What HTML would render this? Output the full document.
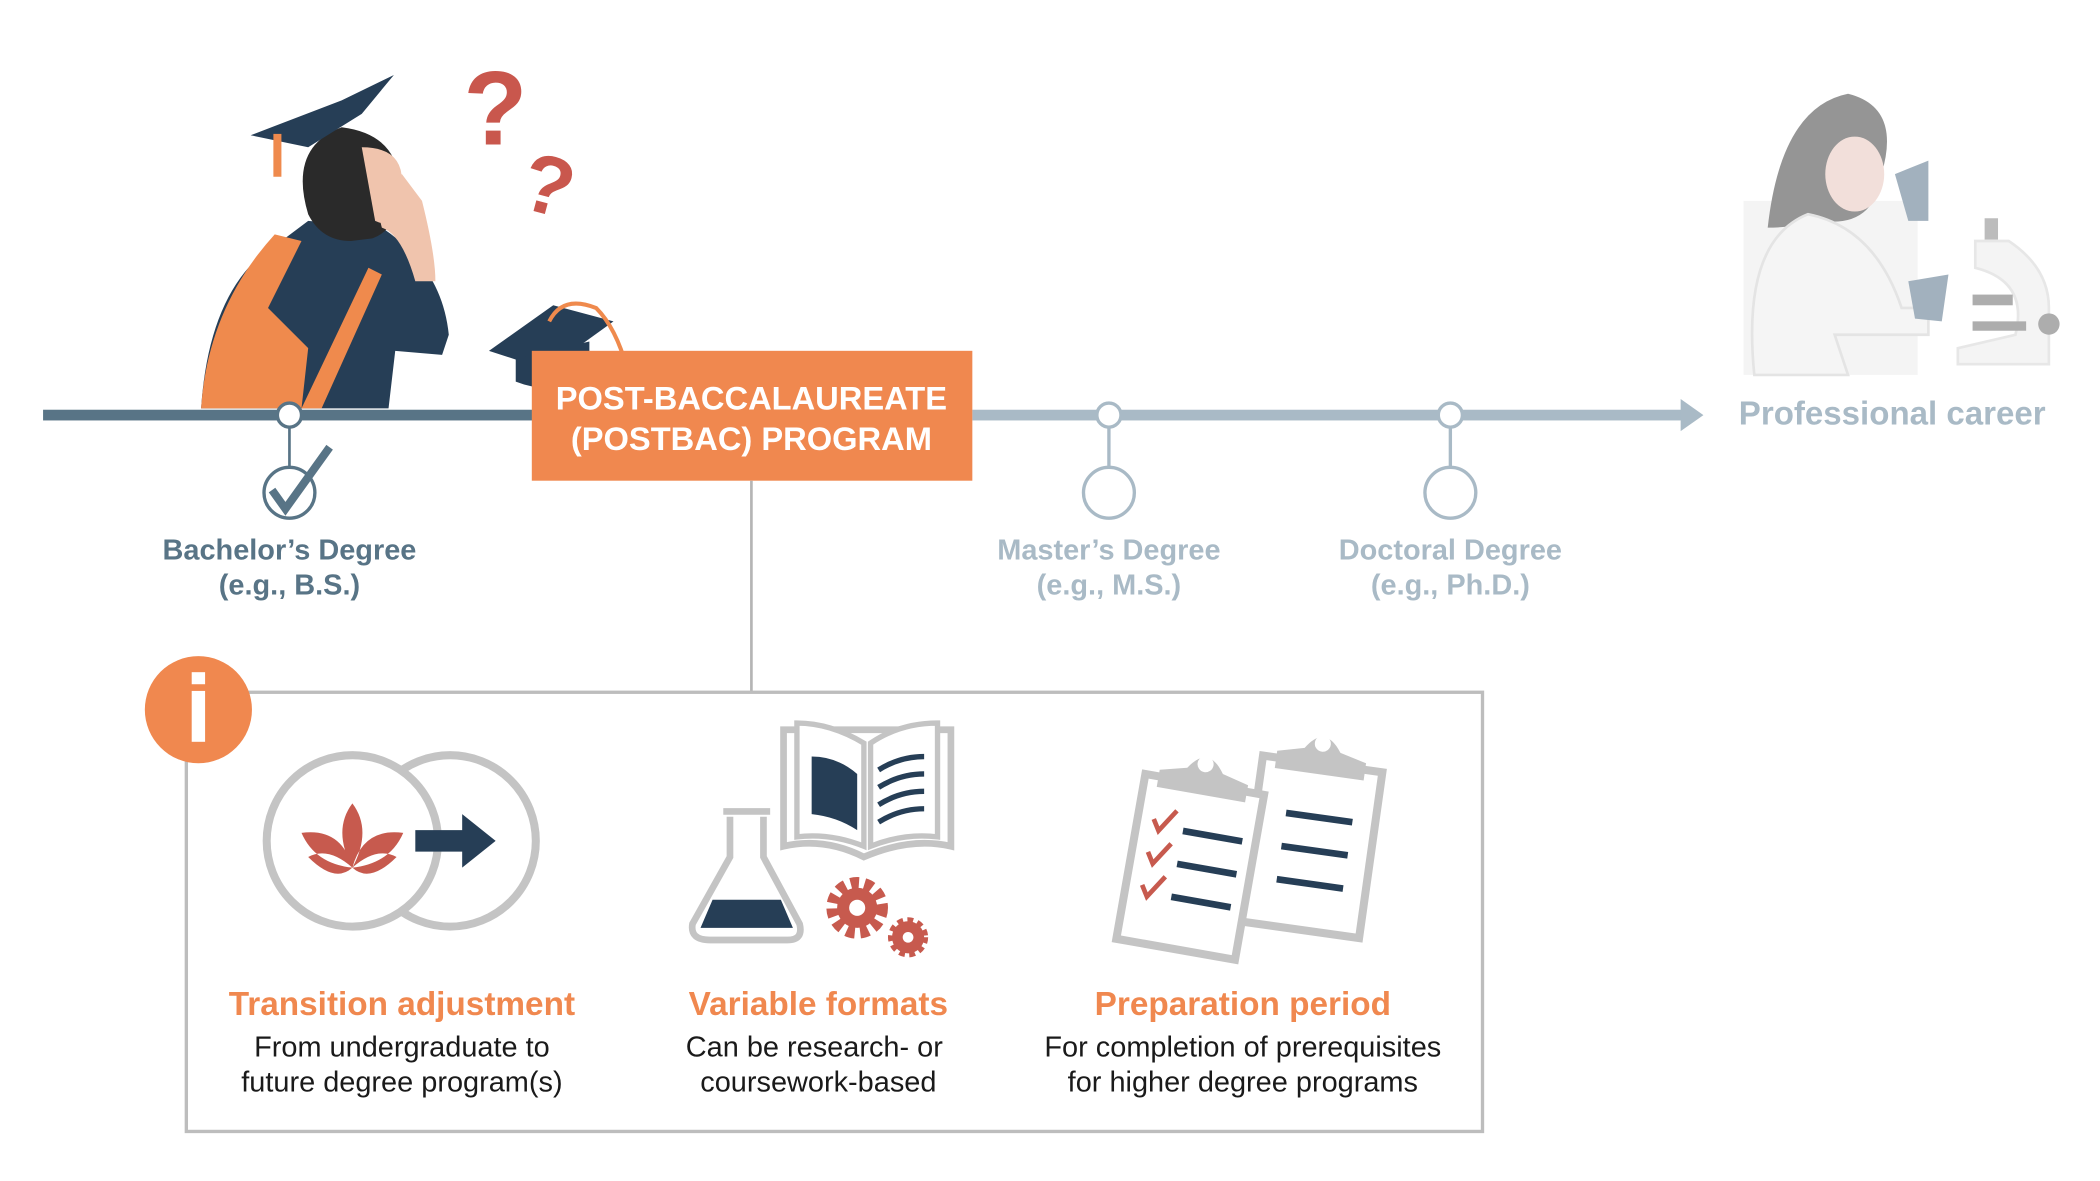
<!DOCTYPE html>
<html><head><meta charset="utf-8"><style>
html,body{margin:0;padding:0;background:#fff;width:2100px;height:1181px;overflow:hidden}
text{font-family:"Liberation Sans",sans-serif}
</style></head><body>
<svg width="2100" height="1181" viewBox="0 0 1568 882" xmlns="http://www.w3.org/2000/svg">
<rect width="1568" height="882" fill="#fff"/>
<g opacity="0.9">
<rect x="1302" y="150" width="130" height="130" fill="#f3f3f3"/>
<path d="M1320 170 Q1330 80 1380 70 Q1420 80 1405 130 Q1400 170 1360 165 Q1340 170 1320 170Z" fill="#8a8a8a"/>
<ellipse cx="1385" cy="130" rx="22" ry="28" fill="#f1dcd6"/>
<path d="M1310 280 Q1300 180 1350 160 Q1400 170 1420 230 L1440 230 L1440 250 L1370 250 L1380 280Z" fill="#f5f5f5" stroke="#e2e2e2" stroke-width="2"/>
<path d="M1415 130 L1440 120 L1440 165 L1425 165Z" fill="#98a9b7"/>
<path d="M1425 210 L1455 205 L1450 240 L1430 238Z" fill="#98a9b7"/>
<rect x="1482" y="163" width="10" height="16" fill="#b5b5b5"/>
<path d="M1475 180 L1500 180 Q1530 200 1530 230 L1530 272 L1462 272 L1462 260 L1505 250 Q1515 210 1475 200Z" fill="#f3f3f3" stroke="#e5e5e5" stroke-width="2"/>
<rect x="1473" y="220" width="30" height="8" fill="#a5a5a5"/>
<rect x="1473" y="240" width="40" height="7" fill="#a5a5a5"/>
<circle cx="1530" cy="242" r="8" fill="#a5a5a5"/>
</g>
<path d="M150 305 Q155 230 190 195 L230 165 L285 170 Q330 200 335 250 L330 265 L295 262 L290 305Z" fill="#263e56"/>
<path d="M150 305 Q155 230 205 175 L225 180 L200 230 L230 260 L225 305Z" fill="#ef8a4d"/>
<path d="M225 305 L275 200 L285 205 L240 305Z" fill="#ef8a4d"/>
<path d="M230 160 Q215 110 255 95 Q295 100 298 135 Q300 170 278 178 L262 180 Q240 180 230 160Z" fill="#2a2a2a"/>
<path d="M270 110 Q300 110 300 135 L298 160 Q290 170 280 165 Z" fill="#f0c4ad"/>
<path d="M280 150 L300 130 L315 150 Q325 190 325 210 L310 210 Q300 175 285 170Z" fill="#f0c4ad"/>
<polygon points="187,101 255,75 294,56 270,85 230,110" fill="#263e56"/>
<rect x="204" y="100" width="6" height="32" fill="#ef8a4d"/>
<text x="346" y="108" font-size="78" font-weight="bold" fill="#c9574d" font-family="Liberation Serif">?</text>
<text x="390" y="160" font-size="62" font-weight="bold" fill="#c9574d" font-family="Liberation Serif" transform="rotate(15 410 140)">?</text>
<polygon points="365,262 413,228 458,240 408,276" fill="#263e56"/>
<path d="M385 268 L385 285 Q410 295 440 285 L440 255Z" fill="#263e56"/>
<path d="M410 240 Q420 220 445 230 Q460 245 468 275" fill="none" stroke="#ef8a4d" stroke-width="3"/>
<rect x="32" y="306" width="368" height="8" fill="#587486"/>
<rect x="726" y="306" width="530" height="8" fill="#a9bac6"/>
<polygon points="1255,298 1272,310 1255,322" fill="#a9bac6"/>
<line x1="216" y1="310" x2="216" y2="350" stroke="#587486" stroke-width="2"/>
<circle cx="216" cy="310" r="9" fill="#fff" stroke="#587486" stroke-width="2.5"/>
<circle cx="216" cy="368" r="19" fill="#fff" stroke="#587486" stroke-width="2.5"/>
<path d="M203 366 L213 380 L246 334" fill="none" stroke="#587486" stroke-width="6"/>
<g stroke="#a9bac6" stroke-width="2.5" fill="#fff">
<line x1="828" y1="310" x2="828" y2="349"/><line x1="1083" y1="310" x2="1083" y2="349"/>
<circle cx="828" cy="310" r="9"/><circle cx="1083" cy="310" r="9"/>
<circle cx="828" cy="368" r="19"/><circle cx="1083" cy="368" r="19"/>
</g>
<rect x="397" y="262" width="329" height="97" fill="#f0884f"/>
<text x="561" y="306" font-size="24.4" font-weight="bold" fill="#fff" text-anchor="middle">POST-BACCALAUREATE</text>
<text x="561" y="336" font-size="24.4" font-weight="bold" fill="#fff" text-anchor="middle">(POSTBAC) PROGRAM</text>
<g font-size="21.6" font-weight="bold" text-anchor="middle">
<text x="216" y="418" fill="#587486">Bachelor’s Degree</text>
<text x="216" y="444" fill="#587486">(e.g., B.S.)</text>
<text x="828" y="418" fill="#a9bac6">Master’s Degree</text>
<text x="828" y="444" fill="#a9bac6">(e.g., M.S.)</text>
<text x="1083" y="418" fill="#a9bac6">Doctoral Degree</text>
<text x="1083" y="444" fill="#a9bac6">(e.g., Ph.D.)</text>
</g>
<text x="1413" y="317" font-size="24.7" font-weight="bold" fill="#a9bac6" text-anchor="middle">Professional career</text>
<line x1="561" y1="359" x2="561" y2="517" stroke="#b5b5b5" stroke-width="2"/>
<rect x="139" y="517" width="968" height="328" fill="none" stroke="#bdbdbd" stroke-width="2.5"/>
<circle cx="148" cy="530" r="40" fill="#f0884f"/>
<rect x="143" y="502" width="10" height="9" fill="#fff"/>
<rect x="143" y="516" width="10" height="38" fill="#fff"/>
<circle cx="336" cy="628" r="64" fill="#fff" stroke="#c4c4c4" stroke-width="6"/>
<circle cx="263" cy="628" r="64" fill="#fff" stroke="#c4c4c4" stroke-width="6"/>
<path d="M263 600 Q278 620 263 648 Q248 620 263 600Z M225 622 Q255 618 263 648 Q235 645 225 622Z M301 622 Q271 618 263 648 Q291 645 301 622Z M230 640 Q250 660 263 648 Q245 632 230 640Z M296 640 Q276 660 263 648 Q281 632 296 640Z" fill="#c75a4e"/>
<polygon points="310,620 345,620 345,608 370,628 345,648 345,636 310,636" fill="#263e56"/>
<path d="M585 545 L585 632 Q615 625 645 640 Q680 625 710 632 L710 545Z" fill="#fff" stroke="#c4c4c4" stroke-width="5"/>
<path d="M595 540 Q620 540 645 555 L645 632 Q620 622 595 625Z" fill="#fff" stroke="#c4c4c4" stroke-width="4"/>
<path d="M700 540 Q672 540 650 555 L650 632 Q675 622 700 625Z" fill="#fff" stroke="#c4c4c4" stroke-width="4"/>
<path d="M606 565 Q625 565 640 578 L640 620 Q625 610 606 608Z" fill="#263e56"/>
<g stroke="#263e56" stroke-width="4" fill="none"><path d="M656 575 Q672 565 690 565"/><path d="M656 588 Q672 578 690 578"/><path d="M656 601 Q672 591 690 591"/><path d="M656 614 Q672 604 690 604"/></g>
<path d="M540 606 L575 606 M545 610 L545 640 L517 690 Q515 702 530 702 L588 702 Q600 702 597 690 L570 640 L570 610" fill="#fff" stroke="#c4c4c4" stroke-width="5"/>
<path d="M532 672 L583 672 L592 693 L523 693Z" fill="#263e56"/>
<circle cx="640" cy="678" r="18" fill="none" stroke="#c75a4e" stroke-width="10" stroke-dasharray="6 4"/>
<circle cx="640" cy="678" r="15" fill="#c75a4e"/><circle cx="640" cy="678" r="6" fill="#fff"/>
<circle cx="678" cy="700" r="12" fill="#c75a4e" stroke="#c75a4e" stroke-width="6" stroke-dasharray="4 3"/><circle cx="678" cy="700" r="4" fill="#fff"/>
<g transform="rotate(8 980 625)">
<rect x="935" y="570" width="90" height="125" fill="#fff" stroke="#c4c4c4" stroke-width="6"/>
<path d="M945 578 L945 565 L965 560 Q978 540 992 560 L1012 565 L1012 578Z" fill="#c4c4c4"/>
<circle cx="978" cy="555" r="6" fill="#fff"/>
<g stroke="#263e56" stroke-width="5"><line x1="958" y1="610" x2="1008" y2="610"/><line x1="958" y1="635" x2="1008" y2="635"/><line x1="958" y1="660" x2="1008" y2="660"/></g>
</g>
<g transform="rotate(10 890 640)">
<rect x="845" y="585" width="90" height="125" fill="#fff" stroke="#c4c4c4" stroke-width="6"/>
<path d="M855 593 L855 580 L875 575 Q888 555 902 575 L922 580 L922 593Z" fill="#c4c4c4"/>
<circle cx="888" cy="570" r="6" fill="#fff"/>
<g stroke="#263e56" stroke-width="5"><line x1="880" y1="622" x2="925" y2="622"/><line x1="880" y1="647" x2="925" y2="647"/><line x1="880" y1="672" x2="925" y2="672"/></g>
<g stroke="#c75a4e" stroke-width="3.5" fill="none"><path d="M857 617 L862 625 L873 608"/><path d="M857 642 L862 650 L873 633"/><path d="M857 667 L862 675 L873 658"/></g>
</g>
<g text-anchor="middle">
<text x="300" y="758" font-size="24.9" font-weight="bold" fill="#f0884f">Transition adjustment</text>
<text x="611" y="758" font-size="24.9" font-weight="bold" fill="#f0884f">Variable formats</text>
<text x="928" y="758" font-size="24.9" font-weight="bold" fill="#f0884f">Preparation period</text>
<g font-size="21.6" fill="#1a1a1a">
<text x="300" y="789">From undergraduate to</text><text x="300" y="815">future degree program(s)</text>
<text x="608" y="789">Can be research- or</text><text x="611" y="815">coursework-based</text>
<text x="928" y="789">For completion of prerequisites</text><text x="928" y="815">for higher degree programs</text>
</g></g>
</svg>
</body></html>
